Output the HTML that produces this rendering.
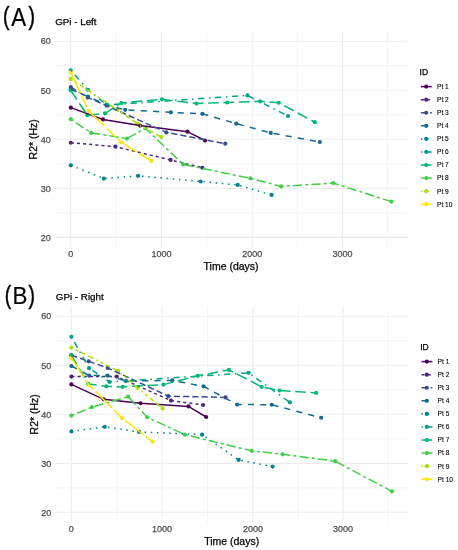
<!DOCTYPE html>
<html><head><meta charset="utf-8"><title>R2* over time</title>
<style>html,body{margin:0;padding:0;background:#fff;}svg{display:block;}</style>
</head><body>
<svg width="458" height="550" viewBox="0 0 458 550" font-family="'Liberation Sans', Arial, Helvetica, sans-serif">
<style>text{stroke:currentColor;stroke-width:0.25px;paint-order:stroke;}</style>
<rect width="458" height="550" fill="#fff"/>
<g transform="translate(0 0)">
<line x1="116.10" y1="31.40" x2="116.10" y2="247.20" stroke="#F1F1F1" stroke-width="0.71"/>
<line x1="206.90" y1="31.40" x2="206.90" y2="247.20" stroke="#F1F1F1" stroke-width="0.71"/>
<line x1="297.40" y1="31.40" x2="297.40" y2="247.20" stroke="#F1F1F1" stroke-width="0.71"/>
<line x1="387.40" y1="31.40" x2="387.40" y2="247.20" stroke="#F1F1F1" stroke-width="0.71"/>
<line x1="54.6" y1="212.88" x2="407.6" y2="212.88" stroke="#F1F1F1" stroke-width="0.71"/>
<line x1="54.6" y1="163.82" x2="407.6" y2="163.82" stroke="#F1F1F1" stroke-width="0.71"/>
<line x1="54.6" y1="114.78" x2="407.6" y2="114.78" stroke="#F1F1F1" stroke-width="0.71"/>
<line x1="54.6" y1="65.73" x2="407.6" y2="65.73" stroke="#F1F1F1" stroke-width="0.71"/>
<line x1="70.70" y1="31.40" x2="70.70" y2="247.20" stroke="#EDEDED" stroke-width="1.07"/>
<line x1="161.40" y1="31.40" x2="161.40" y2="247.20" stroke="#EDEDED" stroke-width="1.07"/>
<line x1="252.30" y1="31.40" x2="252.30" y2="247.20" stroke="#EDEDED" stroke-width="1.07"/>
<line x1="342.40" y1="31.40" x2="342.40" y2="247.20" stroke="#EDEDED" stroke-width="1.07"/>
<line x1="54.6" y1="237.40" x2="407.6" y2="237.40" stroke="#EDEDED" stroke-width="1.07"/>
<line x1="54.6" y1="188.35" x2="407.6" y2="188.35" stroke="#EDEDED" stroke-width="1.07"/>
<line x1="54.6" y1="139.30" x2="407.6" y2="139.30" stroke="#EDEDED" stroke-width="1.07"/>
<line x1="54.6" y1="90.25" x2="407.6" y2="90.25" stroke="#EDEDED" stroke-width="1.07"/>
<line x1="54.6" y1="41.20" x2="407.6" y2="41.20" stroke="#EDEDED" stroke-width="1.07"/>
<circle cx="70.80" cy="107.66" r="2.1" fill="#4B0057"/>
<circle cx="103.03" cy="119.43" r="2.1" fill="#4B0057"/>
<circle cx="139.99" cy="125.57" r="2.1" fill="#4B0057"/>
<circle cx="187.48" cy="131.70" r="2.1" fill="#4B0057"/>
<circle cx="205.00" cy="140.53" r="2.1" fill="#4B0057"/>
<circle cx="70.80" cy="142.73" r="2.1" fill="#4D267D"/>
<circle cx="115.47" cy="146.66" r="2.1" fill="#4D267D"/>
<circle cx="170.59" cy="159.90" r="2.1" fill="#4D267D"/>
<circle cx="202.37" cy="167.75" r="2.1" fill="#4D267D"/>
<circle cx="70.80" cy="87.06" r="2.1" fill="#3B4A8E"/>
<circle cx="87.78" cy="97.61" r="2.1" fill="#3B4A8E"/>
<circle cx="106.76" cy="105.70" r="2.1" fill="#3B4A8E"/>
<circle cx="166.41" cy="132.43" r="2.1" fill="#3B4A8E"/>
<circle cx="225.25" cy="143.71" r="2.1" fill="#3B4A8E"/>
<circle cx="70.80" cy="89.27" r="2.1" fill="#136A92"/>
<circle cx="88.05" cy="96.63" r="2.1" fill="#136A92"/>
<circle cx="106.76" cy="104.97" r="2.1" fill="#136A92"/>
<circle cx="125.19" cy="109.87" r="2.1" fill="#136A92"/>
<circle cx="170.86" cy="112.32" r="2.1" fill="#136A92"/>
<circle cx="202.37" cy="113.79" r="2.1" fill="#136A92"/>
<circle cx="236.24" cy="123.60" r="2.1" fill="#136A92"/>
<circle cx="270.74" cy="132.92" r="2.1" fill="#136A92"/>
<circle cx="319.86" cy="142.00" r="2.1" fill="#136A92"/>
<circle cx="70.80" cy="165.30" r="2.1" fill="#008490"/>
<circle cx="103.76" cy="178.54" r="2.1" fill="#008490"/>
<circle cx="138.17" cy="175.84" r="2.1" fill="#008490"/>
<circle cx="200.64" cy="181.48" r="2.1" fill="#008490"/>
<circle cx="237.78" cy="184.92" r="2.1" fill="#008490"/>
<circle cx="271.65" cy="194.97" r="2.1" fill="#008490"/>
<circle cx="70.80" cy="70.29" r="2.1" fill="#00A188"/>
<circle cx="87.78" cy="89.76" r="2.1" fill="#00A188"/>
<circle cx="107.12" cy="104.97" r="2.1" fill="#00A188"/>
<circle cx="247.50" cy="95.40" r="2.1" fill="#00A188"/>
<circle cx="287.99" cy="116.00" r="2.1" fill="#00A188"/>
<circle cx="70.80" cy="90.50" r="2.1" fill="#00BA73"/>
<circle cx="87.33" cy="115.27" r="2.1" fill="#00BA73"/>
<circle cx="105.12" cy="113.30" r="2.1" fill="#00BA73"/>
<circle cx="121.38" cy="103.00" r="2.1" fill="#00BA73"/>
<circle cx="161.96" cy="99.32" r="2.1" fill="#00BA73"/>
<circle cx="196.56" cy="103.49" r="2.1" fill="#00BA73"/>
<circle cx="227.34" cy="102.51" r="2.1" fill="#00BA73"/>
<circle cx="260.30" cy="101.29" r="2.1" fill="#00BA73"/>
<circle cx="278.82" cy="102.76" r="2.1" fill="#00BA73"/>
<circle cx="314.78" cy="122.13" r="2.1" fill="#00BA73"/>
<circle cx="70.80" cy="119.19" r="2.1" fill="#3FD045"/>
<circle cx="91.23" cy="132.92" r="2.1" fill="#3FD045"/>
<circle cx="127.01" cy="138.56" r="2.1" fill="#3FD045"/>
<circle cx="145.44" cy="128.31" r="2.1" fill="#3FD045"/>
<circle cx="183.12" cy="164.41" r="2.1" fill="#3FD045"/>
<circle cx="250.40" cy="178.29" r="2.1" fill="#3FD045"/>
<circle cx="281.18" cy="186.39" r="2.1" fill="#3FD045"/>
<circle cx="333.30" cy="183.10" r="2.1" fill="#3FD045"/>
<circle cx="391.41" cy="201.59" r="2.1" fill="#3FD045"/>
<circle cx="70.80" cy="78.97" r="2.1" fill="#A9E000"/>
<circle cx="117.56" cy="109.87" r="2.1" fill="#A9E000"/>
<circle cx="137.36" cy="123.85" r="2.1" fill="#A9E000"/>
<circle cx="161.33" cy="137.09" r="2.1" fill="#A9E000"/>
<circle cx="70.80" cy="72.10" r="2.1" fill="#FFE600"/>
<circle cx="88.60" cy="110.85" r="2.1" fill="#FFE600"/>
<circle cx="121.10" cy="142.24" r="2.1" fill="#FFE600"/>
<circle cx="151.43" cy="160.88" r="2.1" fill="#FFE600"/>
<polyline points="70.80,107.66 103.03,119.43 139.99,125.57 187.48,131.70 205.00,140.53" fill="none" stroke="#4B0057" stroke-width="1.5"/>
<polyline points="70.80,142.73 115.47,146.66 170.59,159.90 202.37,167.75" fill="none" stroke="#4D267D" stroke-width="1.5" stroke-dasharray="3.08,3.08"/>
<polyline points="70.80,87.06 87.78,97.61 106.76,105.70 166.41,132.43 225.25,143.71" fill="none" stroke="#3B4A8E" stroke-width="1.5" stroke-dasharray="6.16,3.08"/>
<polyline points="70.80,89.27 88.05,96.63 106.76,104.97 125.19,109.87 170.86,112.32 202.37,113.79 236.24,123.60 270.74,132.92 319.86,142.00" fill="none" stroke="#136A92" stroke-width="1.5" stroke-dasharray="6.16,6.16"/>
<polyline points="70.80,165.30 103.76,178.54 138.17,175.84 200.64,181.48 237.78,184.92 271.65,194.97" fill="none" stroke="#008490" stroke-width="1.5" stroke-dasharray="1.54,4.62"/>
<polyline points="70.80,70.29 87.78,89.76 107.12,104.97 247.50,95.40 287.99,116.00" fill="none" stroke="#00A188" stroke-width="1.5" stroke-dasharray="1.54,4.62,6.16,4.62"/>
<polyline points="70.80,90.50 87.33,115.27 105.12,113.30 121.38,103.00 161.96,99.32 196.56,103.49 227.34,102.51 260.30,101.29 278.82,102.76 314.78,122.13" fill="none" stroke="#00BA73" stroke-width="1.5" stroke-dasharray="10.78,4.62"/>
<polyline points="70.80,119.19 91.23,132.92 127.01,138.56 145.44,128.31 183.12,164.41 250.40,178.29 281.18,186.39 333.30,183.10 391.41,201.59" fill="none" stroke="#3FD045" stroke-width="1.5" stroke-dasharray="3.08,3.08,9.24,3.08"/>
<polyline points="70.80,78.97 117.56,109.87 137.36,123.85 161.33,137.09" fill="none" stroke="#A9E000" stroke-width="1.5" stroke-dasharray="1.54,3.08,3.08,3.08,4.62,3.08,6.16,3.08"/>
<polyline points="70.80,72.10 88.60,110.85 121.10,142.24 151.43,160.88" fill="none" stroke="#FFE600" stroke-width="1.5" stroke-dasharray="23.10,3.08,12.32,3.08"/>
<text x="50.7" y="240.65" text-anchor="end" font-size="9" fill="#4D4D4D" color="#4D4D4D">20</text>
<text x="50.7" y="191.60" text-anchor="end" font-size="9" fill="#4D4D4D" color="#4D4D4D">30</text>
<text x="50.7" y="142.55" text-anchor="end" font-size="9" fill="#4D4D4D" color="#4D4D4D">40</text>
<text x="50.7" y="93.50" text-anchor="end" font-size="9" fill="#4D4D4D" color="#4D4D4D">50</text>
<text x="50.7" y="44.45" text-anchor="end" font-size="9" fill="#4D4D4D" color="#4D4D4D">60</text>
<text x="70.70" y="257.00" text-anchor="middle" font-size="9" fill="#4D4D4D" color="#4D4D4D">0</text>
<text x="161.40" y="257.00" text-anchor="middle" font-size="9" fill="#4D4D4D" color="#4D4D4D">1000</text>
<text x="252.30" y="257.00" text-anchor="middle" font-size="9" fill="#4D4D4D" color="#4D4D4D">2000</text>
<text x="342.40" y="257.00" text-anchor="middle" font-size="9" fill="#4D4D4D" color="#4D4D4D">3000</text>
<text x="231.10" y="269.80" text-anchor="middle" font-size="10.5" fill="#000">Time (days)</text>
<text x="0" y="0" transform="translate(36.9 139.30) rotate(-90)" text-anchor="middle" font-size="10.5" fill="#000">R2* (Hz)</text>
<text x="55.2" y="25.00" font-size="9.8" fill="#000">GPi - Left</text>
<text x="419.6" y="75.20" font-size="8.5" fill="#000">ID</text>
<circle cx="426.2" cy="86.60" r="2.1" fill="#4B0057"/>
<line x1="420.9" y1="86.60" x2="431.8" y2="86.60" stroke="#4B0057" stroke-width="1.5"/>
<text x="437" y="89.00" font-size="6.6" fill="#000" style="stroke-width:0.1px">Pt 1</text>
<circle cx="426.2" cy="99.67" r="2.1" fill="#4D267D"/>
<line x1="420.9" y1="99.67" x2="431.8" y2="99.67" stroke="#4D267D" stroke-width="1.5" stroke-dasharray="3.08,3.08"/>
<text x="437" y="102.07" font-size="6.6" fill="#000" style="stroke-width:0.1px">Pt 2</text>
<circle cx="426.2" cy="112.74" r="2.1" fill="#3B4A8E"/>
<line x1="420.9" y1="112.74" x2="431.8" y2="112.74" stroke="#3B4A8E" stroke-width="1.5" stroke-dasharray="6.16,3.08"/>
<text x="437" y="115.14" font-size="6.6" fill="#000" style="stroke-width:0.1px">Pt 3</text>
<circle cx="426.2" cy="125.81" r="2.1" fill="#136A92"/>
<line x1="420.9" y1="125.81" x2="431.8" y2="125.81" stroke="#136A92" stroke-width="1.5" stroke-dasharray="6.16,6.16"/>
<text x="437" y="128.21" font-size="6.6" fill="#000" style="stroke-width:0.1px">Pt 4</text>
<circle cx="426.2" cy="138.88" r="2.1" fill="#008490"/>
<line x1="420.9" y1="138.88" x2="431.8" y2="138.88" stroke="#008490" stroke-width="1.5" stroke-dasharray="1.54,4.62"/>
<text x="437" y="141.28" font-size="6.6" fill="#000" style="stroke-width:0.1px">Pt 5</text>
<circle cx="426.2" cy="151.95" r="2.1" fill="#00A188"/>
<line x1="420.9" y1="151.95" x2="431.8" y2="151.95" stroke="#00A188" stroke-width="1.5" stroke-dasharray="1.54,4.62,6.16,4.62"/>
<text x="437" y="154.35" font-size="6.6" fill="#000" style="stroke-width:0.1px">Pt 6</text>
<circle cx="426.2" cy="165.02" r="2.1" fill="#00BA73"/>
<line x1="420.9" y1="165.02" x2="431.8" y2="165.02" stroke="#00BA73" stroke-width="1.5" stroke-dasharray="10.78,4.62"/>
<text x="437" y="167.42" font-size="6.6" fill="#000" style="stroke-width:0.1px">Pt 7</text>
<circle cx="426.2" cy="178.09" r="2.1" fill="#3FD045"/>
<line x1="420.9" y1="178.09" x2="431.8" y2="178.09" stroke="#3FD045" stroke-width="1.5" stroke-dasharray="3.08,3.08,9.24,3.08"/>
<text x="437" y="180.49" font-size="6.6" fill="#000" style="stroke-width:0.1px">Pt 8</text>
<circle cx="426.2" cy="191.16" r="2.1" fill="#A9E000"/>
<line x1="420.9" y1="191.16" x2="431.8" y2="191.16" stroke="#A9E000" stroke-width="1.5" stroke-dasharray="1.54,3.08,3.08,3.08,4.62,3.08,6.16,3.08"/>
<text x="437" y="193.56" font-size="6.6" fill="#000" style="stroke-width:0.1px">Pt 9</text>
<circle cx="426.2" cy="204.23" r="2.1" fill="#FFE600"/>
<line x1="420.9" y1="204.23" x2="431.8" y2="204.23" stroke="#FFE600" stroke-width="1.5" stroke-dasharray="23.10,3.08,12.32,3.08"/>
<text x="437" y="206.63" font-size="6.6" fill="#000" style="stroke-width:0.1px">Pt 10</text>
</g>
<text transform="translate(2.95 24.90) scale(0.76 0.98)" font-size="25.4" fill="#000" style="stroke-width:0.5px">(</text>
<text transform="translate(11.30 25.50) scale(0.88 1)" font-size="25.4" fill="#000" style="stroke-width:0.2px">A</text>
<text transform="translate(28.6 24.90) scale(0.76 0.98)" font-size="25.4" fill="#000" style="stroke-width:0.5px">)</text>
<g transform="translate(0.6 0)">
<line x1="116.10" y1="306.40" x2="116.10" y2="522.20" stroke="#F1F1F1" stroke-width="0.71"/>
<line x1="206.90" y1="306.40" x2="206.90" y2="522.20" stroke="#F1F1F1" stroke-width="0.71"/>
<line x1="297.40" y1="306.40" x2="297.40" y2="522.20" stroke="#F1F1F1" stroke-width="0.71"/>
<line x1="387.40" y1="306.40" x2="387.40" y2="522.20" stroke="#F1F1F1" stroke-width="0.71"/>
<line x1="54.6" y1="487.88" x2="407.6" y2="487.88" stroke="#F1F1F1" stroke-width="0.71"/>
<line x1="54.6" y1="438.82" x2="407.6" y2="438.82" stroke="#F1F1F1" stroke-width="0.71"/>
<line x1="54.6" y1="389.77" x2="407.6" y2="389.77" stroke="#F1F1F1" stroke-width="0.71"/>
<line x1="54.6" y1="340.72" x2="407.6" y2="340.72" stroke="#F1F1F1" stroke-width="0.71"/>
<line x1="70.70" y1="306.40" x2="70.70" y2="522.20" stroke="#EDEDED" stroke-width="1.07"/>
<line x1="161.40" y1="306.40" x2="161.40" y2="522.20" stroke="#EDEDED" stroke-width="1.07"/>
<line x1="252.30" y1="306.40" x2="252.30" y2="522.20" stroke="#EDEDED" stroke-width="1.07"/>
<line x1="342.40" y1="306.40" x2="342.40" y2="522.20" stroke="#EDEDED" stroke-width="1.07"/>
<line x1="54.6" y1="512.40" x2="407.6" y2="512.40" stroke="#EDEDED" stroke-width="1.07"/>
<line x1="54.6" y1="463.35" x2="407.6" y2="463.35" stroke="#EDEDED" stroke-width="1.07"/>
<line x1="54.6" y1="414.30" x2="407.6" y2="414.30" stroke="#EDEDED" stroke-width="1.07"/>
<line x1="54.6" y1="365.25" x2="407.6" y2="365.25" stroke="#EDEDED" stroke-width="1.07"/>
<line x1="54.6" y1="316.20" x2="407.6" y2="316.20" stroke="#EDEDED" stroke-width="1.07"/>
<circle cx="70.80" cy="384.38" r="2.1" fill="#4B0057"/>
<circle cx="103.03" cy="399.34" r="2.1" fill="#4B0057"/>
<circle cx="139.99" cy="403.26" r="2.1" fill="#4B0057"/>
<circle cx="187.93" cy="406.45" r="2.1" fill="#4B0057"/>
<circle cx="205.55" cy="417.00" r="2.1" fill="#4B0057"/>
<circle cx="70.80" cy="376.53" r="2.1" fill="#4D267D"/>
<circle cx="116.20" cy="376.53" r="2.1" fill="#4D267D"/>
<circle cx="170.41" cy="400.57" r="2.1" fill="#4D267D"/>
<circle cx="202.46" cy="404.98" r="2.1" fill="#4D267D"/>
<circle cx="70.80" cy="355.19" r="2.1" fill="#3B4A8E"/>
<circle cx="88.05" cy="361.33" r="2.1" fill="#3B4A8E"/>
<circle cx="107.12" cy="367.95" r="2.1" fill="#3B4A8E"/>
<circle cx="167.77" cy="396.15" r="2.1" fill="#3B4A8E"/>
<circle cx="224.98" cy="397.38" r="2.1" fill="#3B4A8E"/>
<circle cx="70.80" cy="365.99" r="2.1" fill="#136A92"/>
<circle cx="88.51" cy="375.55" r="2.1" fill="#136A92"/>
<circle cx="106.76" cy="375.55" r="2.1" fill="#136A92"/>
<circle cx="125.28" cy="380.95" r="2.1" fill="#136A92"/>
<circle cx="171.68" cy="380.46" r="2.1" fill="#136A92"/>
<circle cx="202.91" cy="386.34" r="2.1" fill="#136A92"/>
<circle cx="236.51" cy="404.49" r="2.1" fill="#136A92"/>
<circle cx="271.10" cy="404.74" r="2.1" fill="#136A92"/>
<circle cx="320.50" cy="417.73" r="2.1" fill="#136A92"/>
<circle cx="70.80" cy="431.47" r="2.1" fill="#008490"/>
<circle cx="104.12" cy="426.81" r="2.1" fill="#008490"/>
<circle cx="138.45" cy="431.96" r="2.1" fill="#008490"/>
<circle cx="201.55" cy="434.66" r="2.1" fill="#008490"/>
<circle cx="238.05" cy="459.92" r="2.1" fill="#008490"/>
<circle cx="272.01" cy="466.54" r="2.1" fill="#008490"/>
<circle cx="70.80" cy="336.80" r="2.1" fill="#00A188"/>
<circle cx="88.51" cy="368.19" r="2.1" fill="#00A188"/>
<circle cx="108.94" cy="381.93" r="2.1" fill="#00A188"/>
<circle cx="248.04" cy="372.85" r="2.1" fill="#00A188"/>
<circle cx="289.26" cy="402.28" r="2.1" fill="#00A188"/>
<circle cx="70.80" cy="355.44" r="2.1" fill="#00BA73"/>
<circle cx="87.60" cy="383.89" r="2.1" fill="#00BA73"/>
<circle cx="105.76" cy="386.34" r="2.1" fill="#00BA73"/>
<circle cx="122.01" cy="386.83" r="2.1" fill="#00BA73"/>
<circle cx="162.87" cy="384.62" r="2.1" fill="#00BA73"/>
<circle cx="197.19" cy="375.80" r="2.1" fill="#00BA73"/>
<circle cx="228.34" cy="369.91" r="2.1" fill="#00BA73"/>
<circle cx="261.12" cy="386.83" r="2.1" fill="#00BA73"/>
<circle cx="278.91" cy="390.51" r="2.1" fill="#00BA73"/>
<circle cx="315.60" cy="392.96" r="2.1" fill="#00BA73"/>
<circle cx="70.80" cy="415.53" r="2.1" fill="#3FD045"/>
<circle cx="91.23" cy="407.19" r="2.1" fill="#3FD045"/>
<circle cx="127.55" cy="396.64" r="2.1" fill="#3FD045"/>
<circle cx="146.62" cy="417.24" r="2.1" fill="#3FD045"/>
<circle cx="184.30" cy="434.66" r="2.1" fill="#3FD045"/>
<circle cx="251.13" cy="450.84" r="2.1" fill="#3FD045"/>
<circle cx="281.91" cy="454.28" r="2.1" fill="#3FD045"/>
<circle cx="334.48" cy="461.14" r="2.1" fill="#3FD045"/>
<circle cx="391.32" cy="491.31" r="2.1" fill="#3FD045"/>
<circle cx="70.80" cy="347.59" r="2.1" fill="#A9E000"/>
<circle cx="117.65" cy="370.89" r="2.1" fill="#A9E000"/>
<circle cx="136.90" cy="387.81" r="2.1" fill="#A9E000"/>
<circle cx="161.96" cy="408.41" r="2.1" fill="#A9E000"/>
<circle cx="70.80" cy="357.89" r="2.1" fill="#FFE600"/>
<circle cx="88.32" cy="384.87" r="2.1" fill="#FFE600"/>
<circle cx="121.56" cy="418.22" r="2.1" fill="#FFE600"/>
<circle cx="152.07" cy="441.77" r="2.1" fill="#FFE600"/>
<polyline points="70.80,384.38 103.03,399.34 139.99,403.26 187.93,406.45 205.55,417.00" fill="none" stroke="#4B0057" stroke-width="1.5"/>
<polyline points="70.80,376.53 116.20,376.53 170.41,400.57 202.46,404.98" fill="none" stroke="#4D267D" stroke-width="1.5" stroke-dasharray="3.08,3.08"/>
<polyline points="70.80,355.19 88.05,361.33 107.12,367.95 167.77,396.15 224.98,397.38" fill="none" stroke="#3B4A8E" stroke-width="1.5" stroke-dasharray="6.16,3.08"/>
<polyline points="70.80,365.99 88.51,375.55 106.76,375.55 125.28,380.95 171.68,380.46 202.91,386.34 236.51,404.49 271.10,404.74 320.50,417.73" fill="none" stroke="#136A92" stroke-width="1.5" stroke-dasharray="6.16,6.16"/>
<polyline points="70.80,431.47 104.12,426.81 138.45,431.96 201.55,434.66 238.05,459.92 272.01,466.54" fill="none" stroke="#008490" stroke-width="1.5" stroke-dasharray="1.54,4.62"/>
<polyline points="70.80,336.80 88.51,368.19 108.94,381.93 248.04,372.85 289.26,402.28" fill="none" stroke="#00A188" stroke-width="1.5" stroke-dasharray="1.54,4.62,6.16,4.62"/>
<polyline points="70.80,355.44 87.60,383.89 105.76,386.34 122.01,386.83 162.87,384.62 197.19,375.80 228.34,369.91 261.12,386.83 278.91,390.51 315.60,392.96" fill="none" stroke="#00BA73" stroke-width="1.5" stroke-dasharray="10.78,4.62"/>
<polyline points="70.80,415.53 91.23,407.19 127.55,396.64 146.62,417.24 184.30,434.66 251.13,450.84 281.91,454.28 334.48,461.14 391.32,491.31" fill="none" stroke="#3FD045" stroke-width="1.5" stroke-dasharray="3.08,3.08,9.24,3.08"/>
<polyline points="70.80,347.59 117.65,370.89 136.90,387.81 161.96,408.41" fill="none" stroke="#A9E000" stroke-width="1.5" stroke-dasharray="1.54,3.08,3.08,3.08,4.62,3.08,6.16,3.08"/>
<polyline points="70.80,357.89 88.32,384.87 121.56,418.22 152.07,441.77" fill="none" stroke="#FFE600" stroke-width="1.5" stroke-dasharray="23.10,3.08,12.32,3.08"/>
<text x="50.7" y="515.65" text-anchor="end" font-size="9" fill="#4D4D4D" color="#4D4D4D">20</text>
<text x="50.7" y="466.60" text-anchor="end" font-size="9" fill="#4D4D4D" color="#4D4D4D">30</text>
<text x="50.7" y="417.55" text-anchor="end" font-size="9" fill="#4D4D4D" color="#4D4D4D">40</text>
<text x="50.7" y="368.50" text-anchor="end" font-size="9" fill="#4D4D4D" color="#4D4D4D">50</text>
<text x="50.7" y="319.45" text-anchor="end" font-size="9" fill="#4D4D4D" color="#4D4D4D">60</text>
<text x="70.70" y="532.00" text-anchor="middle" font-size="9" fill="#4D4D4D" color="#4D4D4D">0</text>
<text x="161.40" y="532.00" text-anchor="middle" font-size="9" fill="#4D4D4D" color="#4D4D4D">1000</text>
<text x="252.30" y="532.00" text-anchor="middle" font-size="9" fill="#4D4D4D" color="#4D4D4D">2000</text>
<text x="342.40" y="532.00" text-anchor="middle" font-size="9" fill="#4D4D4D" color="#4D4D4D">3000</text>
<text x="231.10" y="544.80" text-anchor="middle" font-size="10.5" fill="#000">Time (days)</text>
<text x="0" y="0" transform="translate(36.9 414.30) rotate(-90)" text-anchor="middle" font-size="10.5" fill="#000">R2* (Hz)</text>
<text x="55.2" y="299.60" font-size="9.8" fill="#000">GPi - Right</text>
<text x="419.6" y="350.20" font-size="8.5" fill="#000">ID</text>
<circle cx="426.2" cy="361.60" r="2.1" fill="#4B0057"/>
<line x1="420.9" y1="361.60" x2="431.8" y2="361.60" stroke="#4B0057" stroke-width="1.5"/>
<text x="437" y="364.00" font-size="6.6" fill="#000" style="stroke-width:0.1px">Pt 1</text>
<circle cx="426.2" cy="374.67" r="2.1" fill="#4D267D"/>
<line x1="420.9" y1="374.67" x2="431.8" y2="374.67" stroke="#4D267D" stroke-width="1.5" stroke-dasharray="3.08,3.08"/>
<text x="437" y="377.07" font-size="6.6" fill="#000" style="stroke-width:0.1px">Pt 2</text>
<circle cx="426.2" cy="387.74" r="2.1" fill="#3B4A8E"/>
<line x1="420.9" y1="387.74" x2="431.8" y2="387.74" stroke="#3B4A8E" stroke-width="1.5" stroke-dasharray="6.16,3.08"/>
<text x="437" y="390.14" font-size="6.6" fill="#000" style="stroke-width:0.1px">Pt 3</text>
<circle cx="426.2" cy="400.81" r="2.1" fill="#136A92"/>
<line x1="420.9" y1="400.81" x2="431.8" y2="400.81" stroke="#136A92" stroke-width="1.5" stroke-dasharray="6.16,6.16"/>
<text x="437" y="403.21" font-size="6.6" fill="#000" style="stroke-width:0.1px">Pt 4</text>
<circle cx="426.2" cy="413.88" r="2.1" fill="#008490"/>
<line x1="420.9" y1="413.88" x2="431.8" y2="413.88" stroke="#008490" stroke-width="1.5" stroke-dasharray="1.54,4.62"/>
<text x="437" y="416.28" font-size="6.6" fill="#000" style="stroke-width:0.1px">Pt 5</text>
<circle cx="426.2" cy="426.95" r="2.1" fill="#00A188"/>
<line x1="420.9" y1="426.95" x2="431.8" y2="426.95" stroke="#00A188" stroke-width="1.5" stroke-dasharray="1.54,4.62,6.16,4.62"/>
<text x="437" y="429.35" font-size="6.6" fill="#000" style="stroke-width:0.1px">Pt 6</text>
<circle cx="426.2" cy="440.02" r="2.1" fill="#00BA73"/>
<line x1="420.9" y1="440.02" x2="431.8" y2="440.02" stroke="#00BA73" stroke-width="1.5" stroke-dasharray="10.78,4.62"/>
<text x="437" y="442.42" font-size="6.6" fill="#000" style="stroke-width:0.1px">Pt 7</text>
<circle cx="426.2" cy="453.09" r="2.1" fill="#3FD045"/>
<line x1="420.9" y1="453.09" x2="431.8" y2="453.09" stroke="#3FD045" stroke-width="1.5" stroke-dasharray="3.08,3.08,9.24,3.08"/>
<text x="437" y="455.49" font-size="6.6" fill="#000" style="stroke-width:0.1px">Pt 8</text>
<circle cx="426.2" cy="466.16" r="2.1" fill="#A9E000"/>
<line x1="420.9" y1="466.16" x2="431.8" y2="466.16" stroke="#A9E000" stroke-width="1.5" stroke-dasharray="1.54,3.08,3.08,3.08,4.62,3.08,6.16,3.08"/>
<text x="437" y="468.56" font-size="6.6" fill="#000" style="stroke-width:0.1px">Pt 9</text>
<circle cx="426.2" cy="479.23" r="2.1" fill="#FFE600"/>
<line x1="420.9" y1="479.23" x2="431.8" y2="479.23" stroke="#FFE600" stroke-width="1.5" stroke-dasharray="23.10,3.08,12.32,3.08"/>
<text x="437" y="481.63" font-size="6.6" fill="#000" style="stroke-width:0.1px">Pt 10</text>
</g>
<text transform="translate(4.7 303.70) scale(0.76 0.98)" font-size="25.4" fill="#000" style="stroke-width:0.5px">(</text>
<text transform="translate(12.61 304.30) scale(0.88 0.965)" font-size="25.4" fill="#000" style="stroke-width:0.2px">B</text>
<text transform="translate(28.6 303.70) scale(0.76 0.98)" font-size="25.4" fill="#000" style="stroke-width:0.5px">)</text>
</svg>
</body></html>
